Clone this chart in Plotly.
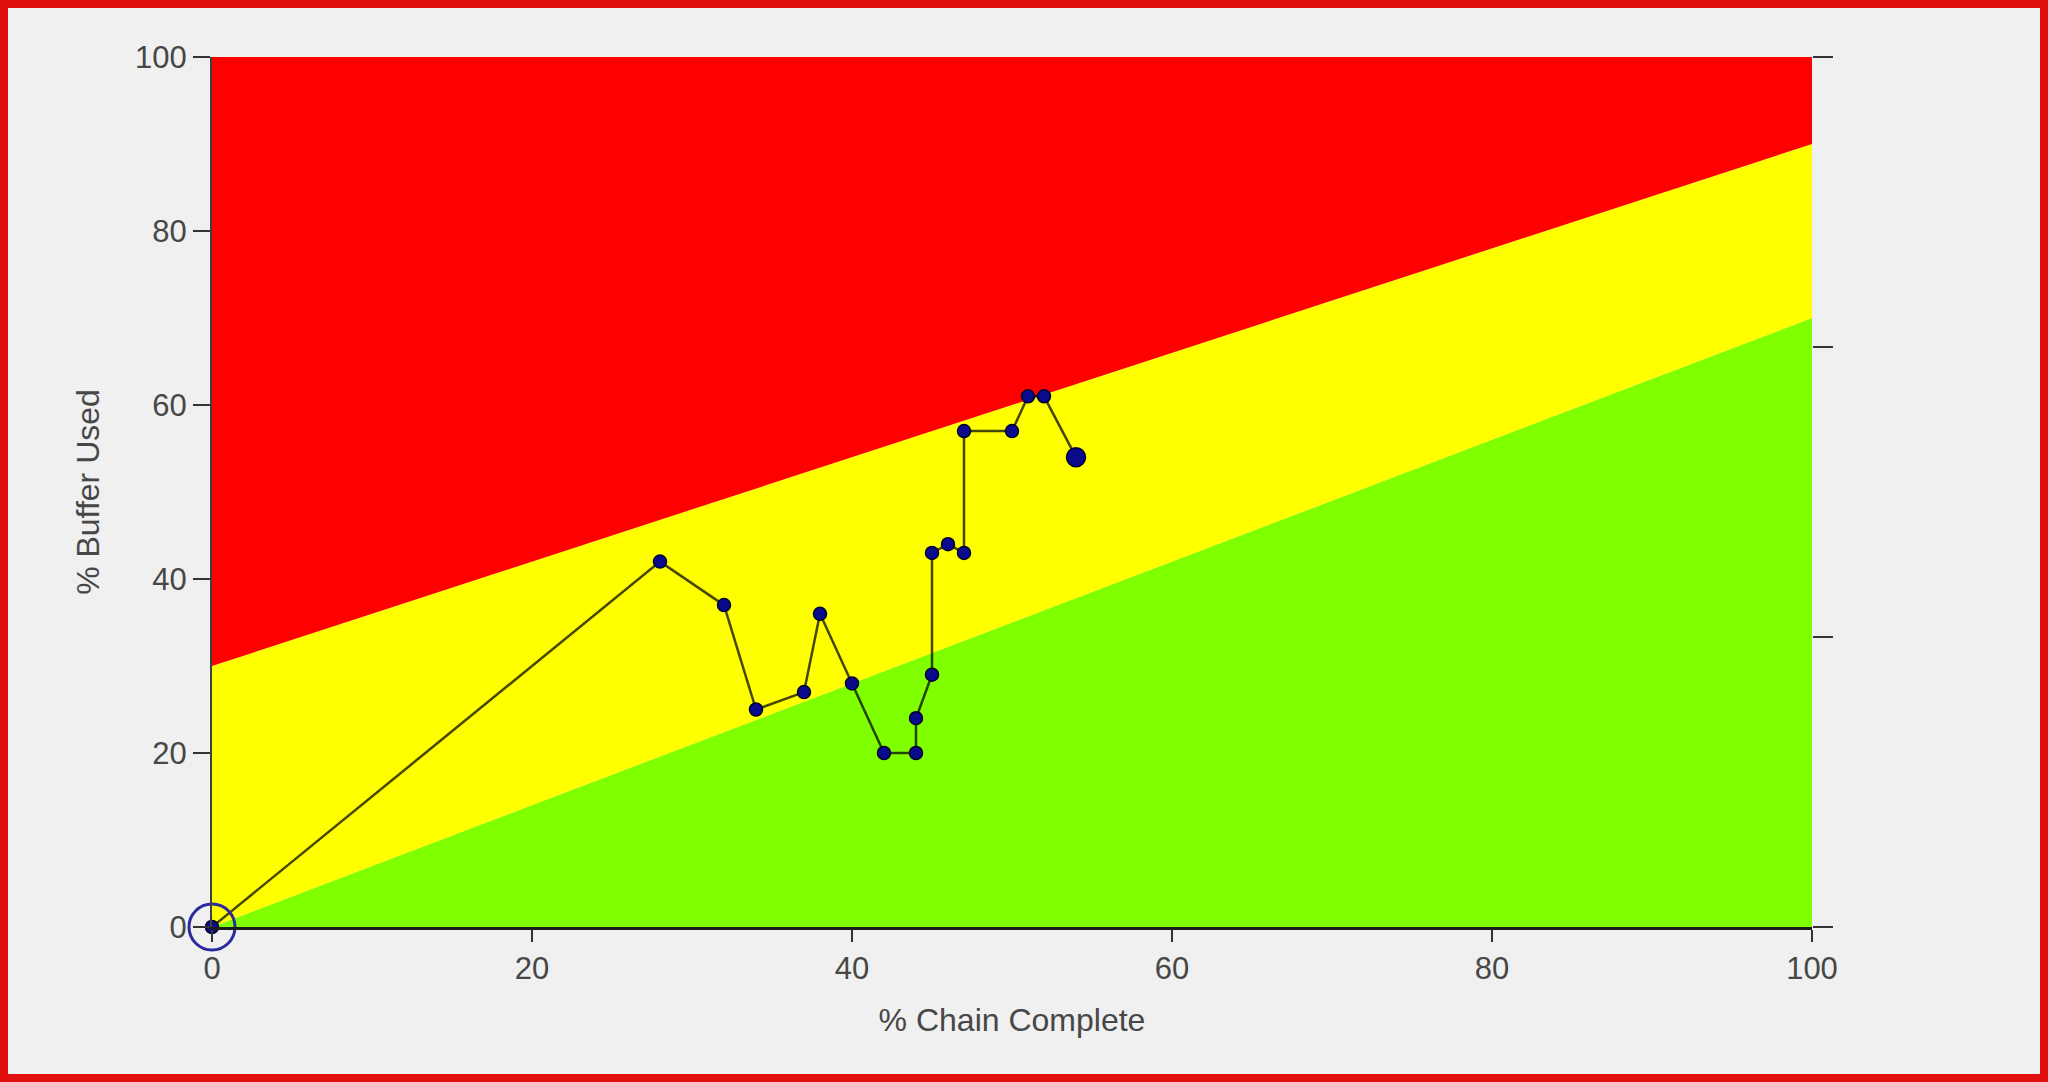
import plotly.graph_objects as go

# ---- data ----
chain_complete = [0, 28, 32, 34, 37, 38, 40, 42, 44, 44, 45, 45, 46, 47, 47, 50, 51, 52, 54]
buffer_used = [0, 42, 37, 25, 27, 36, 28, 20, 20, 24, 29, 43, 44, 43, 57, 57, 61, 61, 54]

zone_x = [0, 100]
green_upper = [0, 70]
yellow_upper = [30, 90]
red_upper = [100, 100]

x_ticks = [0, 20, 40, 60, 80, 100]
y_ticks = [0, 20, 40, 60, 80, 100]
right_ticks = [0, 100 / 3, 200 / 3, 100]

x_title = "% Chain Complete"
y_title = "% Buffer Used"

# ---- layout geometry (pixels) ----
W, H = 2048, 1082
L, R, T, B = 212, 236, 57, 155
PW, PH = W - L - R, H - T - B

TICK_FONT = dict(family="Liberation Sans, Arial, sans-serif", size=31, color="#474747")
TITLE_FONT = dict(family="Liberation Sans, Arial, sans-serif", size=32, color="#474747")

fig = go.Figure()

# zones
fig.add_trace(go.Scatter(x=zone_x, y=green_upper, mode="lines", line=dict(width=0),
                         fill="tozeroy", fillcolor="#80FF00", hoverinfo="skip", showlegend=False))
fig.add_trace(go.Scatter(x=zone_x, y=yellow_upper, mode="lines", line=dict(width=0),
                         fill="tonexty", fillcolor="#FFFF00", hoverinfo="skip", showlegend=False))
fig.add_trace(go.Scatter(x=zone_x, y=red_upper, mode="lines", line=dict(width=0),
                         fill="tonexty", fillcolor="#FF0000", hoverinfo="skip", showlegend=False))

# fever line
n = len(chain_complete)
sizes = [13] * (n - 1) + [19]
fig.add_trace(go.Scatter(x=chain_complete, y=buffer_used, mode="lines+markers",
                         line=dict(color="rgba(0,0,0,0.72)", width=2.5),
                         marker=dict(color="#0A0A8C", size=sizes, opacity=1,
                                     line=dict(width=1.5, color="#000035")),
                         cliponaxis=False, showlegend=False))

# start marker circle
fig.add_trace(go.Scatter(x=chain_complete[:1], y=buffer_used[:1], mode="markers",
                         marker=dict(symbol="circle-open", size=46, color="#2B2BA0",
                                     line=dict(width=3, color="#2B2BA0")),
                         cliponaxis=False, showlegend=False))

# right axis ticks (no labels)
fig.add_trace(go.Scatter(x=zone_x, y=red_upper, yaxis="y2", mode="lines",
                         line=dict(width=0), hoverinfo="skip", showlegend=False))

fig.update_layout(
    width=W, height=H,
    margin=dict(l=L, r=R, t=T, b=B, pad=0),
    paper_bgcolor="#F0F0F0",
    plot_bgcolor="#F0F0F0",
    xaxis=dict(range=[0, 100], tickvals=x_ticks, ticks="outside", ticklen=12, tickwidth=2,
               tickcolor="#333333", showline=True, linecolor="#1C1C1C", linewidth=3,
               showgrid=False, zeroline=False, tickfont=TICK_FONT,
               title=dict(text=x_title, font=TITLE_FONT, standoff=24)),
    yaxis=dict(range=[0, 100], tickvals=y_ticks, ticks="outside", ticklen=17, tickwidth=2,
               tickcolor="#333333", showline=True, linecolor="#404040", linewidth=2,
               showgrid=False, zeroline=False, tickfont=TICK_FONT,
               title=dict(text=y_title, font=TITLE_FONT, standoff=26)),
    yaxis2=dict(range=[0, 100], overlaying="y", side="right", tickvals=right_ticks,
                ticks="outside", ticklen=20, tickwidth=2, tickcolor="#333333",
                showticklabels=False, showline=False, showgrid=False, zeroline=False),
    shapes=[dict(type="rect", xref="paper", yref="paper",
                 x0=-(L - 4) / PW, x1=1 + (R - 4) / PW,
                 y0=-(B - 4) / PH, y1=1 + (T - 4) / PH,
                 line=dict(color="#E01010", width=8), layer="above")],
)

fig.write_html("out.html", config={"displayModeBar": False},
               post_script="document.body.style.margin='0';document.body.style.overflow='hidden';")
